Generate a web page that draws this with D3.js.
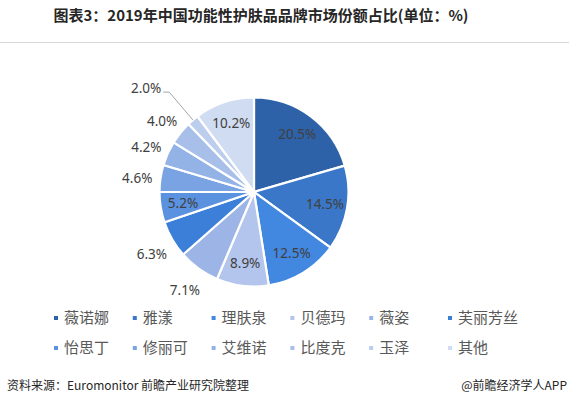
<!DOCTYPE html>
<html><head><meta charset="utf-8">
<script src="https://cdn.jsdelivr.net/npm/d3@7"></script>
<style>
html,body{margin:0;padding:0;background:#fff;}
svg{display:block;}
</style></head>
<body>
<svg id="c" width="569" height="407"></svg>
<script>
const titleText = "图表3：2019年中国功能性护肤品品牌市场份额占比(单位：%)";
const categories = ["薇诺娜","雅漾","理肤泉","贝德玛","薇姿","芙丽芳丝","怡思丁","修丽可","艾维诺","比度克","玉泽","其他"];
const values = [20.5,14.5,12.5,8.9,7.1,6.3,5.2,4.6,4.2,4.0,2.0,10.2];
const colors = ["#2E62A8","#3A77C8","#4287E0","#B3C5EC","#9CB4E6","#3C7FD9","#5A92E0","#7AA3E3","#93B3E6","#A8BFEA","#BCCDEE","#D0DCF2"];
const labelPlacement = ["in","in","in","in","out","out","in","out","out","out","leader","in"];
const sourceText = "资料来源：Euromonitor 前瞻产业研究院整理";
const brandText = "@前瞻经济学人APP";

const svg = d3.select("#c");
const font = "'Noto Sans CJK SC','Noto Sans','Liberation Sans',sans-serif";

// title
svg.append("text").attr("x",261).attr("y",21).attr("text-anchor","middle")
  .attr("font-family",font).attr("font-size",15).attr("font-weight","bold")
  .attr("fill","#262626").text(titleText);
svg.append("line").attr("x1",0).attr("x2",569).attr("y1",42.5).attr("y2",42.5)
  .attr("stroke","#d9d9d9").attr("stroke-width",1);

// pie
const cx = 254, cy = 192, R = 94.5;
const g = svg.append("g").attr("transform",`translate(${cx},${cy})`);
const pie = d3.pie().sort(null).value(d=>d);
const arcs = pie(values);
const arc = d3.arc().innerRadius(0).outerRadius(R);
g.selectAll("path.s").data(arcs).join("path").attr("class","s")
  .attr("d",arc).attr("fill",(d,i)=>colors[i])
  .attr("stroke","#fff").attr("stroke-width",2.2).attr("stroke-linejoin","miter");

const polar = (a,r)=>[r*Math.sin(a), -r*Math.cos(a)];
const fmt = v=>v.toFixed(1)+"%";
const labFont = "'Noto Sans','Liberation Sans',sans-serif";
arcs.forEach((d,i)=>{
  const a = (d.startAngle+d.endAngle)/2;
  const p = labelPlacement[i];
  let pos, anchor="middle";
  if(p==="in"){ pos = polar(a,72); }
  else if(p==="out"){ pos = polar(a,118); pos[1]+=3; }
  else {
    const e = polar(a,R), el = polar(a,131);
    g.append("polyline").attr("points",[[el[0]-6,el[1]],el,e].map(q=>q.join(",")).join(" "))
      .attr("fill","none").attr("stroke","#a6a6a6").attr("stroke-width",1);
    pos = [el[0]-8, el[1]-4]; anchor="end";
  }
  g.append("text").attr("x",pos[0]).attr("y",pos[1]).attr("dy","0.35em")
    .attr("text-anchor",anchor).attr("font-family",labFont).attr("font-size",13.5)
    .attr("fill","#404040").text(fmt(values[i]));
});

// legend
const lx = d3.scalePoint().domain(d3.range(6)).range([54,448]);
const ly = d3.scalePoint().domain([0,1]).range([318,348]);
const lg = svg.append("g");
categories.forEach((c,i)=>{
  const col = i%6, row = Math.floor(i/6);
  lg.append("rect").attr("x",lx(col)).attr("y",ly(row)-2).attr("width",4).attr("height",4)
    .attr("fill",colors[i]);
  lg.append("text").attr("x",lx(col)+10).attr("y",ly(row)).attr("dy","0.36em")
    .attr("font-family",font).attr("font-size",15).attr("fill","#595959").text(c);
});

// footer
svg.append("text").attr("x",7).attr("y",390).attr("font-family",font).attr("font-size",12)
  .attr("fill","#262626").text(sourceText);
svg.append("text").attr("x",567).attr("y",390).attr("text-anchor","end").attr("font-family",font)
  .attr("font-size",12).attr("fill","#262626").text(brandText);
</script>
</body></html>
